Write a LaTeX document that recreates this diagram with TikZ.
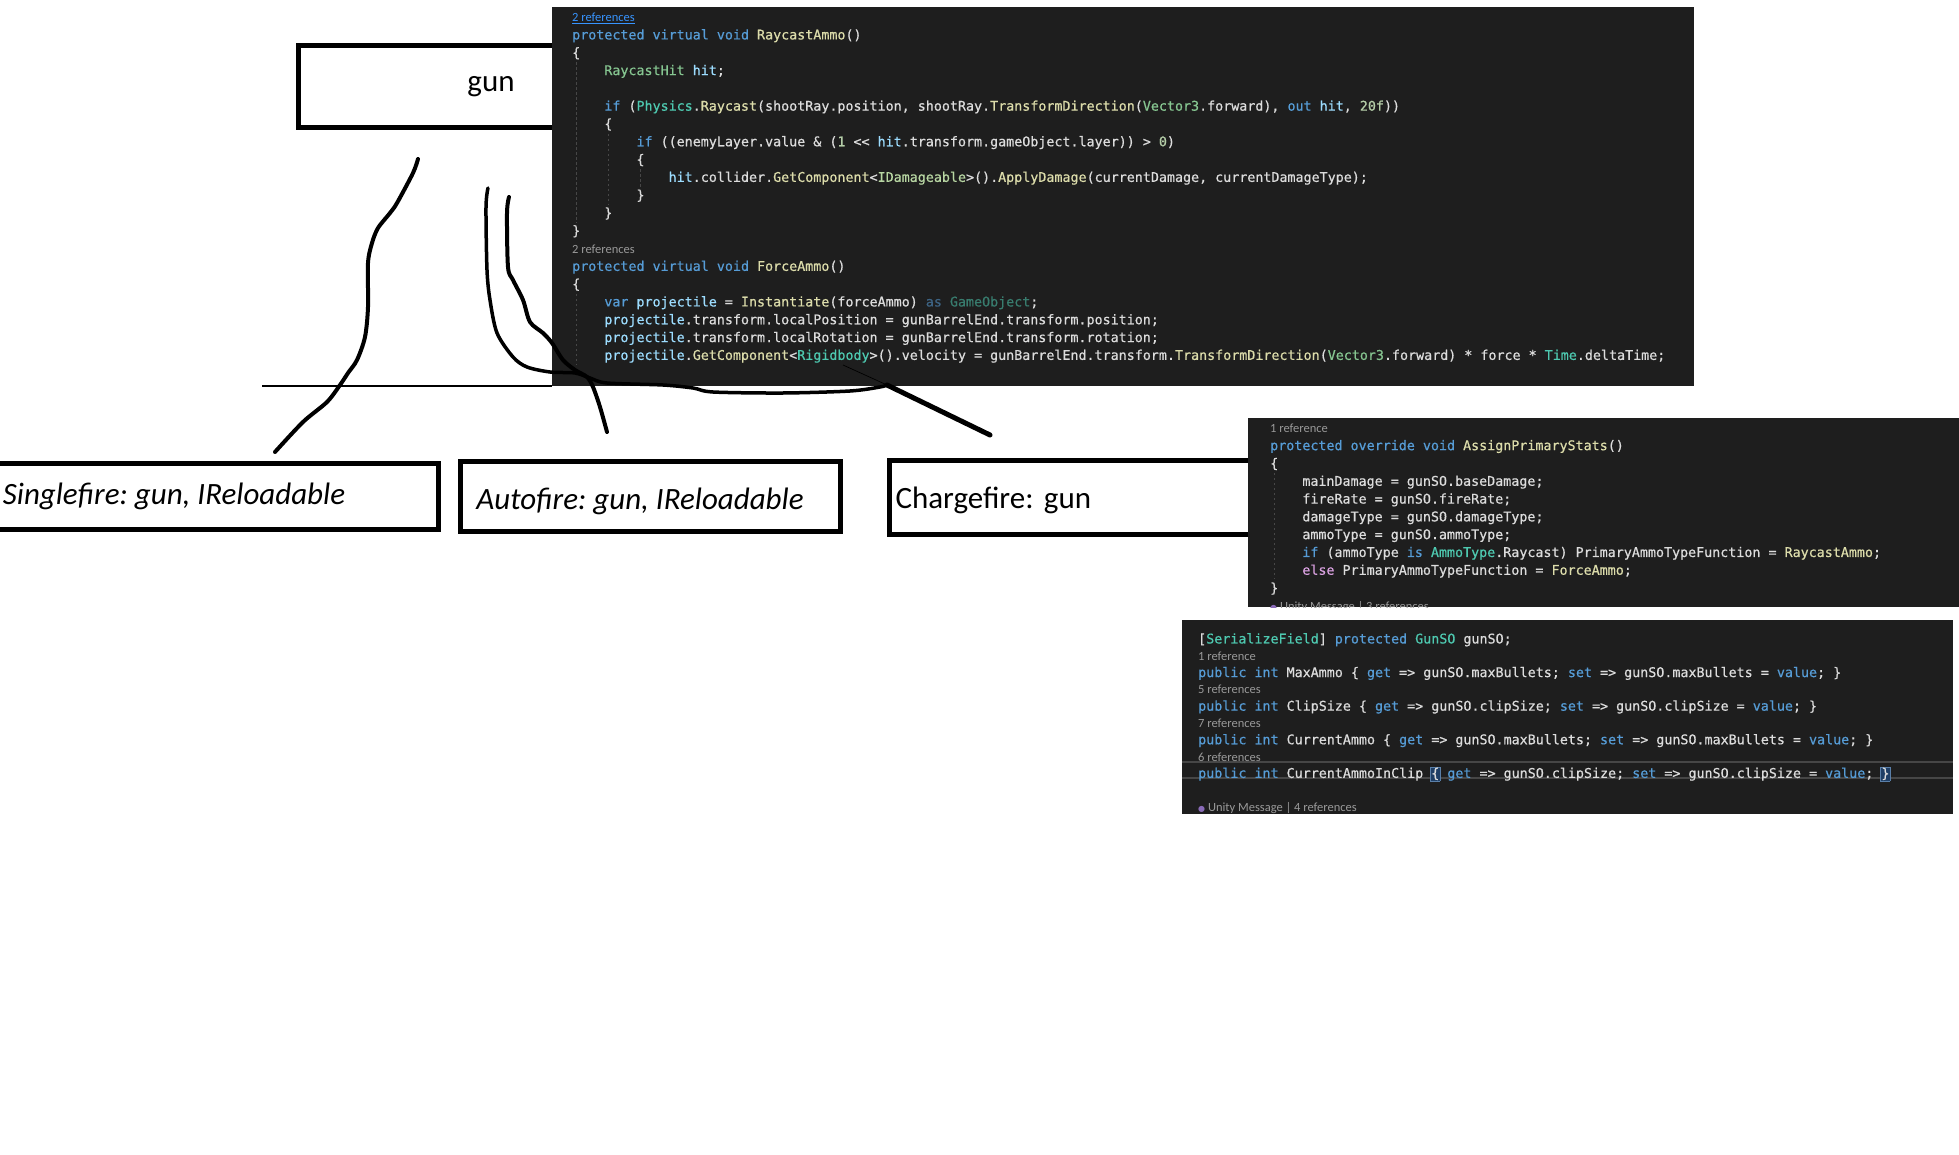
\documentclass[tikz,border=0pt]{standalone}
\usepackage{fontspec}
\setmainfont{Carlito}
\newfontfamily\codefont{DejaVu Sans Mono}[Ligatures=TeXOff, FakeBold=0.6]
\newfontfamily\iconfont{DejaVu Sans}
\usetikzlibrary{calc}
\usetikzlibrary{positioning}

\definecolor{codebg}{HTML}{1E1E1E}
\definecolor{codefg}{HTML}{DCDCDC}
\definecolor{kwblue}{HTML}{569CD6}
\definecolor{ctrlpink}{HTML}{D8A0DF}
\definecolor{typeteal}{HTML}{4EC9B0}
\definecolor{structgreen}{HTML}{86C691}
\definecolor{ifacegreen}{HTML}{B8D7A3}
\definecolor{fnyellow}{HTML}{DCDCAA}
\definecolor{localblue}{HTML}{9CDCFE}
\definecolor{numgreen}{HTML}{B5CEA8}
\definecolor{refgray}{HTML}{999999}
\definecolor{linkblue}{HTML}{3794FF}
\definecolor{guidegray}{HTML}{474747}
\definecolor{linegray}{HTML}{464646}
\definecolor{bracebg}{HTML}{1F3F66}
\definecolor{bracebd}{HTML}{5A7FA8}
\definecolor{unitypurple}{HTML}{8A6BB8}

\newcommand{\ckw}[1]{\textcolor{kwblue}{#1}}
\newcommand{\cct}[1]{\textcolor{ctrlpink}{#1}}
\newcommand{\cty}[1]{\textcolor{typeteal}{#1}}
\newcommand{\cst}[1]{\textcolor{structgreen}{#1}}
\newcommand{\cif}[1]{\textcolor{ifacegreen}{#1}}
\newcommand{\cfn}[1]{\textcolor{fnyellow}{#1}}
\newcommand{\clc}[1]{\textcolor{localblue}{#1}}
\newcommand{\cnm}[1]{\textcolor{numgreen}{#1}}
\newcommand{\cind}{\hphantom{0000}}
\newcommand{\crefs}[1]{{\rmfamily\fontsize{12.5}{15}\selectfont\color{refgray}#1}}
\newcommand{\cunity}{{\iconfont\fontsize{8}{10}\selectfont\color{unitypurple}●}}
\newcommand{\cbrace}[1]{{\setlength{\fboxsep}{0.5pt}\setlength{\fboxrule}{0.4pt}\rlap{\kern-0.9pt\fcolorbox{bracebd}{bracebg}{\phantom{#1}}}#1}}

\begin{document}
\frenchspacing
\begin{tikzpicture}[x=1pt, y=-1pt]
        % Define styles for shapes
        \tikzstyle{classbox} = [draw, line width=5pt, inner sep=0pt, font=\fontsize{31}{37}\selectfont]
        \tikzstyle{codepanel} = [fill=codebg]
        \tikzstyle{codetext} = [anchor=north west, inner sep=0pt, text=codefg, font=\codefont\fontsize{13.35}{17.8}\selectfont]
        \tikzstyle{guide} = [draw=guidegray, line width=0.8pt, dash pattern=on 2.5pt off 2.5pt]
        \tikzstyle{hand} = [draw, line width=4pt, line cap=round, line join=round]

        \path[use as bounding box, fill=white] (0,0) rectangle (1959,1155);

        % Draw shapes
        \node[classbox, minimum width=386pt, minimum height=82pt] (gun) at (491,87) {gun};
        \draw[line width=1.5pt] (262,386) -- (552,386);

        % code of the gun
        \fill[codepanel] (552,7.5) rectangle (1694,386);
        \draw[guide] (576,62.4) -- (576,222.6);
        \draw[guide] (608,133.6) -- (608,204.8);
        \draw[guide] (640,169.2) -- (640,187);
        \draw[guide] (576,293.8) -- (576,365);
        \node[codetext] (ammoCode) at (572,9) {
                \begin{tabular}{@{}l@{}}
                    \crefs{\color{linkblue}\underline{2 references}} \\
                    \ckw{protected} \ckw{virtual} \ckw{void} \cfn{RaycastAmmo}() \\
                    \{ \\
                    \cind\cst{RaycastHit} \clc{hit}; \\
                    \\
                    \cind\ckw{if} (\cty{Physics}.\cfn{Raycast}(shootRay.position, shootRay.\cfn{TransformDirection}(\cst{Vector3}.forward), \ckw{out} \clc{hit}, \cnm{20f})) \\
                    \cind\{ \\
                    \cind\cind\ckw{if} ((enemyLayer.value \& (\cnm{1} << \clc{hit}.transform.gameObject.layer)) > \cnm{0}) \\
                    \cind\cind\{ \\
                    \cind\cind\cind\clc{hit}.collider.\cfn{GetComponent}<\cif{IDamageable}>().\cfn{ApplyDamage}(currentDamage, currentDamageType); \\
                    \cind\cind\} \\
                    \cind\} \\
                    \} \\
                    \crefs{2 references} \\
                    \ckw{protected} \ckw{virtual} \ckw{void} \cfn{ForceAmmo}() \\
                    \{ \\
                    \cind\ckw{var} \clc{projectile} = \cfn{Instantiate}(forceAmmo) \textcolor{kwblue!55!codebg}{as} \textcolor{typeteal!55!codebg}{GameObject}; \\
                    \cind\clc{projectile}.transform.localPosition = gunBarrelEnd.transform.position; \\
                    \cind\clc{projectile}.transform.localRotation = gunBarrelEnd.transform.rotation; \\
                    \cind\clc{projectile}.\cfn{GetComponent}<\cty{Rigidbody}>().velocity = gunBarrelEnd.transform.\cfn{TransformDirection}(\cst{Vector3}.forward) * force * \cty{Time}.deltaTime; \\
                \end{tabular}
        };

        \node[classbox, minimum width=528pt, minimum height=66pt] (single) at (174,496) {\itshape Singlefire: gun, IReloadable};
        \node[classbox, minimum width=380pt, minimum height=70pt, text height=26pt, text depth=0pt] (auto) at (650,496) {\itshape Autofire: gun, IReloadable\hspace*{20pt}};
        \node[classbox, anchor=west, minimum height=74pt, text width=400pt, align=left, inner xsep=6pt, text height=24pt, text depth=2pt] (charge) at (887,497) {Chargefire: gun};

        % code of the stats
        \begin{scope}
            \clip (1248,418) rectangle (1959,607);
            \fill[codepanel] (1248,418) rectangle (1959,607);
            \draw[guide] (1274,472.8) -- (1274,579);
            \node[codetext] (statsCode) at (1270,419.7) {
                    \begin{tabular}{@{}l@{}}
                        \crefs{1 reference} \\
                        \ckw{protected} \ckw{override} \ckw{void} \cfn{AssignPrimaryStats}() \\
                        \{ \\
                        \cind mainDamage = gunSO.baseDamage; \\
                        \cind fireRate = gunSO.fireRate; \\
                        \cind damageType = gunSO.damageType; \\
                        \cind ammoType = gunSO.ammoType; \\
                        \cind\ckw{if} (ammoType \ckw{is} \cty{AmmoType}.Raycast) PrimaryAmmoTypeFunction = \cfn{RaycastAmmo}; \\
                        \cind\cct{else} PrimaryAmmoTypeFunction = \cfn{ForceAmmo}; \\
                        \} \\
                        \crefs{\cunity\ Unity Message | 3 references} \\
                    \end{tabular}
            };
        \end{scope}

        % code of the properties
        \begin{scope}
            \clip (1182,620) rectangle (1953,814);
            \fill[codepanel] (1182,620) rectangle (1953,814);
            \draw[linegray, line width=1.5pt] (1182,762) -- (1953,762);
            \draw[linegray, line width=1.5pt] (1182,778) -- (1953,778);
            \node[codetext, font=\codefont\fontsize{13.35}{16.8}\selectfont] (propCode) at (1198,631.5) {
                    \begin{tabular}{@{}l@{}}
                        [\cty{SerializeField}] \ckw{protected} \cty{GunSO} gunSO; \\
                        \crefs{1 reference} \\
                        \ckw{public} \ckw{int} MaxAmmo \{ \ckw{get} => gunSO.maxBullets; \ckw{set} => gunSO.maxBullets = \ckw{value}; \} \\
                        \crefs{5 references} \\
                        \ckw{public} \ckw{int} ClipSize \{ \ckw{get} => gunSO.clipSize; \ckw{set} => gunSO.clipSize = \ckw{value}; \} \\
                        \crefs{7 references} \\
                        \ckw{public} \ckw{int} CurrentAmmo \{ \ckw{get} => gunSO.maxBullets; \ckw{set} => gunSO.maxBullets = \ckw{value}; \} \\
                        \crefs{6 references} \\
                        \ckw{public} \ckw{int} CurrentAmmoInClip \cbrace{\{} \ckw{get} => gunSO.clipSize; \ckw{set} => gunSO.clipSize = \ckw{value}; \cbrace{\}} \\
                        \\
                        \crefs{\cunity\ Unity Message | 4 references} \\
                    \end{tabular}
            };
        \end{scope}

        % Draw arrows
        \coordinate (gunA) at (418,159);
        \coordinate (gunB) at (488,188);
        \coordinate (gunC) at (509,197);
        \coordinate (singleTip) at (275,452);
        \coordinate (autoTip) at (607,432);
        \coordinate (bend) at (887,385);
        \coordinate (chargeTip) at (990,435);
        \coordinate (rigidMark) at (843,365);
        \draw[hand] plot[smooth, tension=0.5] coordinates {(gunA) (413,173) (397,203) (390,213) (378,228) (372,243) (368,263) (368,307) (365,337) (357,360) (348,373) (340,385) (327,402) (303,422) (singleTip)};
        \draw[hand, line width=3.5pt] plot[smooth, tension=0.5] coordinates {(gunB) (486,207) (487,270) (490,300) (497,333) (513,357) (527,367) (550,372) (575,373) (590,378) (607,383) (663,385) (693,388) (713,392) (783,393) (850,391) (880,387) (bend)};
        \draw[hand] plot[smooth, tension=0.5] coordinates {(gunC) (507,213) (508,267) (513,280) (523,300) (530,322) (543,333) (552,343) (563,360) (575,370) (587,377) (593,387) (600,407) (autoTip)};
        \draw[hand, line width=5pt] (bend) -- (chargeTip);
        \draw[line width=0.7pt] (rigidMark) -- ($(rigidMark)!1.05!(bend)$);
\end{tikzpicture}
\end{document}
